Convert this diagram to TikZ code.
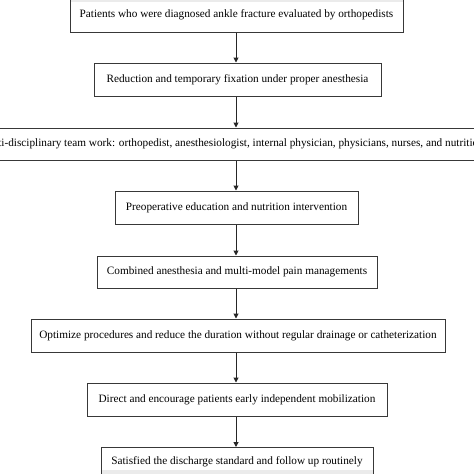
\documentclass[tikz,border=0pt]{standalone}
\usepackage{fontspec}
\setmainfont{Liberation Serif}
\usetikzlibrary{arrows.meta}
\begin{document}
\begin{tikzpicture}[x=1pt,y=-1pt,
  flowbox/.style={draw=black!78,line width=1pt,inner sep=0pt,font=\fontsize{11.25}{13}\selectfont,text=black},
  flowarrow/.style={draw=black!85,line width=1pt,-{Triangle[length=5pt,width=5pt]}}]
\useasboundingbox (0,0) rectangle (474,474);
\clip (0,0) rectangle (474,474);
\fill[white] (0,0) rectangle (474,474);
\fill[black!8] (70,0) rectangle (403,2);
\fill[black!8] (101,470) rectangle (373,474);
\node[flowbox,minimum width=333pt,minimum height=34pt] (b1) at (236.5,15) {\raisebox{-2pt}{Patients who were diagnosed ankle fracture evaluated by orthopedists}};
\node[flowbox,minimum width=287pt,minimum height=33pt] (b2) at (237.5,79.5) {Reduction and temporary fixation under proper anesthesia};
\node[flowbox,minimum width=490pt,minimum height=32pt] (b3) at (237,144) {Multi-disciplinary team work: orthopedist, anesthesiologist, internal physician, physicians, nurses, and nutritionist};
\node[flowbox,minimum width=243pt,minimum height=33pt] (b4) at (236.5,207.5) {Preoperative education and nutrition intervention};
\node[flowbox,minimum width=280pt,minimum height=32pt] (b5) at (237,272) {Combined anesthesia and multi-model pain managements};
\node[flowbox,minimum width=414pt,minimum height=33pt] (b6) at (238,335.5) {Optimize procedures and reduce the duration without regular drainage or catheterization};
\node[flowbox,minimum width=300pt,minimum height=33pt] (b7) at (237,399.5) {Direct and encourage patients early independent mobilization};
\node[flowbox,minimum width=272pt,minimum height=30pt,anchor=north] (b8) at (237,447) {\raisebox{4pt}{Satisfied the discharge standard and follow up routinely}};
\foreach \a/\b in {b1/b2,b2/b3,b3/b4,b4/b5,b5/b6,b6/b7,b7/b8}
  \draw[flowarrow] (\a.south -| 236,0) -- (\b.north -| 236,0);
\end{tikzpicture}
\end{document}
